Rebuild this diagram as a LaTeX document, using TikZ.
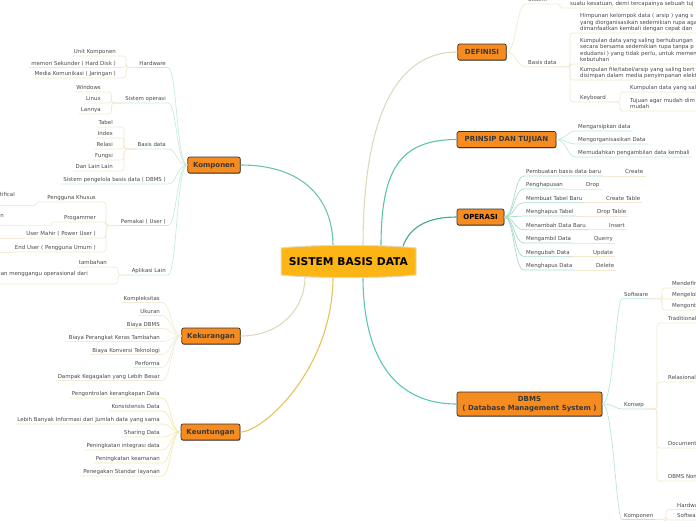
\documentclass[tikz,border=0pt]{standalone}
\usepackage{fontspec}
\setmainfont{DejaVu Sans}
\usetikzlibrary{shadows}
\definecolor{rootfill}{HTML}{FDB515}
\definecolor{rootedge}{HTML}{E2DCC0}
\definecolor{topicfill}{HTML}{F68B1F}
\definecolor{textgray}{HTML}{484848}
\definecolor{komcol}{HTML}{C8EBDC}
\definecolor{kekcol}{HTML}{F0ECD8}
\definecolor{keucol}{HTML}{F5E9B5}
\definecolor{defcol}{HTML}{EFE8CF}
\definecolor{pricol}{HTML}{BCEBDC}
\definecolor{opcol}{HTML}{A8DCCB}
\definecolor{dbcol}{HTML}{B5E6E3}
\definecolor{subcol}{HTML}{F1E9D2}
\definecolor{tandark}{HTML}{DFD9BC}
\definecolor{primain}{HTML}{5DC5A5}
\definecolor{opmain}{HTML}{3FA88E}
\definecolor{dbmain}{HTML}{5CC6B8}
\definecolor{kommain}{HTML}{6CC5A8}
\definecolor{keumain}{HTML}{E3C45A}
\tikzset{
    txt/.style={font=\fontsize{5.45}{6.5}\selectfont, text=textgray, inner xsep=2pt, inner ysep=1pt, text depth=1.2pt},
    toleft/.style={txt, text height=4pt, anchor=south east},
    toright/.style={txt, text height=4pt, anchor=south west},
    para/.style={txt, anchor=south west, align=left},
    cutleft/.style={txt, text height=4pt, text depth=7.4pt, anchor=south east},
    topic/.style={draw=black!80, line width=.7pt, fill=topicfill, rounded corners=2pt, inner sep=0pt,
        font=\fontsize{7}{9}\selectfont\bfseries, text=black!78, align=center,
        drop shadow={shadow xshift=.4pt, shadow yshift=-.9pt, opacity=.45, fill=black}},
    onetopic/.style={topic, text height=4.4pt, text depth=0pt, minimum height=16pt},
    trunk/.style={line width=1.1pt},
    komline/.style={line width=.7pt, color=komcol},
    kekline/.style={line width=.7pt, color=kekcol},
    keuline/.style={line width=.7pt, color=keucol},
    defline/.style={line width=.7pt, color=defcol},
    priline/.style={line width=.7pt, color=pricol},
    opline/.style={line width=.7pt, color=opcol},
    dbline/.style={line width=.7pt, color=dbcol},
    subline/.style={line width=.7pt, color=subcol, rounded corners=3pt},
}
\begin{document}
\begin{tikzpicture}[x=1pt, y=-1pt]
    \useasboundingbox (0,0) rectangle (696,520);
    \clip (0,0) rectangle (696,520);
    \coordinate (edgeL) at (0,0);
    \coordinate (edgeR) at (696,0);

    % tengah
    \node[minimum width=135pt, minimum height=30pt, inner sep=0pt] (root) at (348.5,261.5) {};
    \node[onetopic, minimum width=48.5pt] (definisi) at (482,52) {DEFINISI};
    \node[onetopic, minimum width=99pt] (prinsip) at (506.5,139.5) {PRINSIP DAN TUJUAN};
    \node[onetopic, minimum width=47pt, text=black] (operasi) at (480.5,217) {OPERASI};
    \node[topic, minimum width=145pt, minimum height=24pt] (dbms) at (529.5,404) {DBMS\\( Database Management System )};
    \node[onetopic, minimum width=52.5pt] (komponen) at (214,165) {Komponen};
    \node[onetopic, minimum width=58.5pt] (kekurangan) at (211,336) {Kekurangan};
    \node[onetopic, minimum width=59pt] (keuntungan) at (210.5,432) {Keuntungan};

    \draw[trunk, color=tandark] ([xshift=14.5pt]root.north) .. controls +(0,-115) and +(-68,0) .. (definisi.west);
    \draw[trunk, color=primain] ([xshift=32.5pt]root.north) .. controls +(0,-75) and +(-58,0) .. (prinsip.west);
    \draw[trunk, color=opmain] ([xshift=54.5pt]root.north) .. controls +(7,-20) and +(-28,0) .. (operasi.west);
    \draw[trunk, color=dbmain] ([xshift=14.5pt]root.south) .. controls +(0,72) and +(-68,0) .. (dbms.west);
    \draw[trunk, color=kommain] ([xshift=-15.5pt]root.north) .. controls +(0,-50) and +(60,0) .. (komponen.east);
    \draw[trunk, color=tandark] ([xshift=-43.5pt]root.south) .. controls +(0,32) and +(40,0) .. (kekurangan.east);
    \draw[trunk, color=keumain] ([xshift=-15.5pt]root.south) .. controls +(0,92) and +(23,0) .. (keuntungan.east);

    \fill[rootfill, draw=rootedge, line width=1pt] (281,248) .. controls (310,244.5) and (387,244.5) .. (416,248)
        -- (416,275) .. controls (387,278.5) and (310,278.5) .. (281,275) -- cycle;
    \node[inner sep=0pt, font=\fontsize{10.7}{12}\selectfont\bfseries, text=black] (roottext) at (root.center) {SISTEM BASIS DATA};

    % komponen
    \foreach \nm/\y/\txt in {hardware/67.5/Hardware, sisop/103/Sistem operasi, basis/149/Basis data,
        pengelola/184/Sistem pengelola basis data ( DBMS ), pemakai/225.5/Pemakai ( User ), aplikasi/275/Aplikasi Lain} {
        \node[toleft] (\nm) at (168,\y) {\txt};
        \draw[komline] (komponen.west) .. controls +(-11,0) and +(9,0) .. (\nm.south east) -- (\nm.south west);
    }
    \foreach \nm/\y/\txt in {unit/56/Unit Komponen, memori/67.5/memori Sekunder ( Hard Disk ), media/78/Media Komunikasi ( Jaringan )} {
        \node[toleft] (\nm) at (118,\y) {\txt};
        \draw[subline] (hardware.south west) -| ([xshift=8pt]\nm.south east) -- (\nm.south west);
    }
    \foreach \nm/\y/\txt in {windows/92/Windows, linux/103/Linux, lannya/114/Lannya} {
        \node[toleft] (\nm) at (103,\y) {\txt};
        \draw[subline] (sisop.south west) -| ([xshift=8.5pt]\nm.south east) -- (\nm.south west);
    }
    \foreach \nm/\y/\txt in {tabel/127/Tabel, index/138/Index, relasi/149/Relasi, fungsi/160/Fungsi, lainlain/171/Dan Lain Lain} {
        \node[toleft] (\nm) at (115,\y) {\txt};
        \draw[subline] (basis.south west) -| ([xshift=9pt]\nm.south east) -- (\nm.south west);
    }
    \foreach \nm/\y/\txt in {khusus/202/Pengguna Khusus, programmer/222/Progammer, mahir/238/User Mahir ( Power User ), enduser/252/End User ( Pengguna Umum )} {
        \node[toleft] (\nm) at (98,\y) {\txt};
        \draw[subline] (pemakai.south west) -| ([xshift=8pt]\nm.south east) -- (\nm.south west);
    }
    \draw[subline] (mahir.south west) -- (mahir.south west -| edgeL);
    \draw[subline] (enduser.south west) -- (enduser.south west -| edgeL);
    \node[cutleft] (artifical) at (17,205.5) {tifical};
    \node[cutleft] (an) at (6,225.6) {an};
    \draw[subline, rounded corners=1.5pt] (khusus.south west) -- ++(-9,0) |- (artifical.south east) -- (artifical.south west -| edgeL);
    \draw[subline, rounded corners=1.5pt] (programmer.south west) -- ++(-10,0) |- (an.south east) -- (an.south west -| edgeL);
    \node[toleft] (tambahan) at (109,267) {tambahan};
    \node[cutleft] (menggangu) at (90,284) {kan menggangu operasional dari};
    \draw[subline] (aplikasi.south west) -| ([xshift=9pt]tambahan.south east) -- (tambahan.south west);
    \draw[subline] (aplikasi.south west) -| ([xshift=28pt]menggangu.south east) -- (menggangu.south west -| edgeL);

    % kekurangan
    \foreach \y/\txt [count=\i] in {302.5/Kompleksitas, 315.5/Ukuran, 328.5/Biaya DBMS, 341.5/Biaya Perangkat Keras Tambahan,
        354.5/Biaya Konversi Teknologi, 367.5/Performa, 380.5/Dampak Kegagalan yang Lebih Besar} {
        \node[toleft] (kek\i) at (162,\y) {\txt};
        \draw[kekline] (kekurangan.west) .. controls +(-10,0) and +(9,0) .. (kek\i.south east) -- (kek\i.south west);
    }

    % keuntungan
    \foreach \y/\txt [count=\i] in {398/Pengontrolan kerangkapan Data, 411/Konsistensis Data, 424/Lebih Banyak Informasi dari Jumlah data yang sama,
        437/Sharing Data, 450/Peningkatan integrasi data, 463/Peningkatan keamanan, 476/Penegakan Standar layanan} {
        \node[toleft] (keu\i) at (162,\y) {\txt};
        \draw[keuline] (keuntungan.west) .. controls +(-10,0) and +(9,0) .. (keu\i.south east) -- (keu\i.south west);
    }

    % definisi
    \node[toright] (sistem) at (526,4) {Sistem};
    \draw[defline] (definisi.east) .. controls +(10,0) and +(-10,0) .. (sistem.south west) -- (sistem.south east);
    \node[toright] (kesatuan) at (568,8) {suatu kesatuan, demi tercapainya sebuah tuj};
    \draw[subline, rounded corners=1.5pt] (sistem.south east) -- ++(11,0) |- (kesatuan.south west) -- (kesatuan.south west -| edgeR);
    \node[toright] (basisdef) at (526,66.7) {Basis data};
    \draw[defline] (definisi.east) .. controls +(10,0) and +(-10,0) .. (basisdef.south west) -- (basisdef.south east);
    \node[para] (himpunan) at (578,33) {Himpunan kelompok data ( arsip ) yang s\\yang diorganisasikan sedemikian rupa aga\\dimanfaatkan kembali dengan cepat dan}; 
    \node[para] (kumpulan) at (578,64) {Kumpulan data yang saling berhubungan\\secara bersama sedemikian rupa tanpa p\\edudansi ) yang tidak perlu, untuk memen\\kebutuhan};
    \node[para] (berkas) at (578,80) {Kumpulan file/tabel/arsip yang saling bert\\disimpan dalam media penyimpanan elekt};
    \node[toright] (keyboard) at (578,102) {Keyboard};
    \foreach \nm in {himpunan, kumpulan, berkas} {
        \draw[subline] (basisdef.south east) -| ([xshift=-8pt]\nm.south west) -- (\nm.south west) -- (\nm.south west -| edgeR);
    }
    \draw[subline] (basisdef.south east) -| ([xshift=-8pt]keyboard.south west) -- (keyboard.south east);
    \node[toright] (kumpulansal) at (628,92) {Kumpulan data yang sal};
    \node[para] (tujuan) at (628,111) {Tujuan agar mudah dim\\mudah};
    \draw[subline] (keyboard.south east) -| ([xshift=-8pt]kumpulansal.south west) -- (kumpulansal.south west -| edgeR);
    \draw[subline] (keyboard.south east) -| ([xshift=-8pt]tujuan.south west) -- (tujuan.south west -| edgeR);

    % prinsip
    \foreach \nm/\y/\txt in {arsip/131/Mengarsipkan data, atur/144/Mengorganisasikan Data, ambil/157/Memudahkan pengambilan data kembali} {
        \node[toright] (\nm) at (576,\y) {\txt};
        \draw[priline] (prinsip.east) .. controls +(10,0) and +(-9,0) .. (\nm.south west) -- (\nm.south east);
    }

    % operasi
    \foreach \nm/\y/\txt/\kid/\kx/\ktxt in {buat/176/Pembuatan basis data baru/create/623/Create, hapus/189/Penghapusan/drop/584/Drop,
        tabelbaru/202.7/Membuat Tabel Baru/createtable/604/Create Table, hapustabel/216/Menghapus Tabel/droptable/595/Drop Table,
        tambah/229.7/Menambah Data Baru/insert/607/Insert, mengambil/243/Mengambil Data/querry/592/Querry,
        ubah/256.7/Mengubah Data/update/591/Update, hapusdata/270/Menghapus Data/delete/594/Delete} {
        \node[toright] (\nm) at (524,\y) {\txt};
        \node[toright] (\kid) at (\kx,\y) {\ktxt};
        \draw[opline] (operasi.east) .. controls +(10,0) and +(-10,0) .. (\nm.south west) -- (\nm.south east);
        \draw[subline] (\nm.south east) -- (\kid.south east);
    }

    % dbms
    \node[toright] (software) at (622,298.7) {Software};
    \node[toright] (konsep) at (622,409) {Konsep};
    \node[toright] (dbkomponen) at (622,519.5) {Komponen};
    \foreach \nm in {software, konsep, dbkomponen} {
        \draw[dbline] (dbms.east) .. controls +(11,0) and +(-6,0) .. (\nm.south west) -- (\nm.south east);
    }
    \foreach \nm/\y/\txt in {mendefin/288/Mendefin, mengelol/299/Mengelol, mengont/310/Mengont} {
        \node[toright] (\nm) at (670,\y) {\txt};
        \draw[subline] (software.south east) -| ([xshift=-8pt]\nm.south west) -- (\nm.south west) -- (\nm.south west -| edgeR);
    }
    \foreach \nm/\y/\txt in {traditional/323/Traditional, relasional/382/Relasional, document/448/Document, nonrelasi/481/DBMS Non} {
        \node[toright] (\nm) at (666,\y) {\txt};
        \draw[subline] (konsep.south east) -| ([xshift=-9pt]\nm.south west) -- (\nm.south west) -- (\nm.south west -| edgeR);
    }
    \foreach \nm/\y/\txt in {hardwa/509.5/Hardwa, softwa/520/Softwa} {
        \node[toright] (\nm) at (675,\y) {\txt};
        \draw[subline] (dbkomponen.south east) -| ([xshift=-9pt]\nm.south west) -- (\nm.south west) -- (\nm.south west -| edgeR);
    }
\end{tikzpicture}
\end{document}
